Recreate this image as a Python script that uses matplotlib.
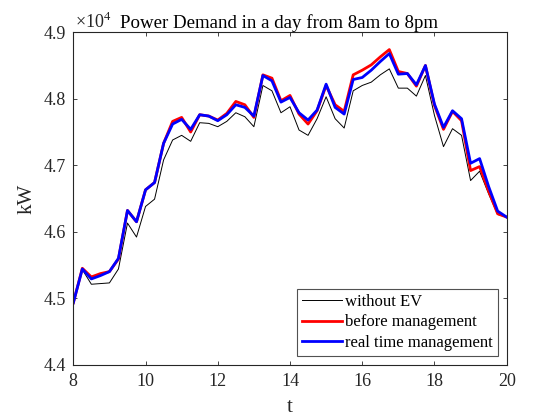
import numpy as np
import matplotlib
matplotlib.use('Agg')
import matplotlib.pyplot as plt

# --- dati (kW), un punto ogni 15 minuti dalle 8 alle 20 ---
t = np.arange(8, 20.01, 0.25)

without_ev = [44930, 45430, 45210, 45220, 45230, 45440, 46130, 45920, 46380, 46490,
              47080, 47380, 47450, 47360, 47640, 47630, 47580, 47660, 47790, 47730,
              47580, 48200, 48120, 47790, 47880, 47530, 47450, 47700, 48030, 47700,
              47560, 48120, 48200, 48250, 48360, 48450, 48160, 48160, 48040, 48350,
              47750, 47280, 47550, 47450, 46770, 46910, 46570, 46260, 46220]

before_mgmt = [44930, 45450, 45320, 45370, 45400, 45590, 46320, 46150, 46630, 46740,
               47330, 47660, 47720, 47500, 47760, 47740, 47680, 47780, 47960, 47910,
               47720, 48360, 48310, 47970, 48050, 47770, 47620, 47820, 48200, 47910,
               47810, 48360, 48430, 48510, 48630, 48740, 48410, 48380, 48190, 48500,
               47900, 47540, 47810, 47670, 46920, 46980, 46610, 46270, 46220]

real_time = [44930, 45440, 45290, 45340, 45400, 45600, 46320, 46150, 46630, 46740,
             47330, 47620, 47690, 47540, 47760, 47740, 47670, 47760, 47910, 47870,
             47740, 48350, 48270, 47950, 48020, 47790, 47680, 47830, 48220, 47870,
             47770, 48290, 48320, 48430, 48560, 48680, 48370, 48380, 48210, 48500,
             47920, 47570, 47820, 47700, 47030, 47100, 46680, 46310, 46220]

plt.rcParams['font.family'] = ['Liberation Serif', 'DejaVu Serif']
plt.rcParams['mathtext.fontset'] = 'custom'
plt.rcParams['mathtext.rm'] = 'Liberation Serif'

fig = plt.figure(figsize=(5.6, 4.2), dpi=100)
ax = fig.add_axes([0.1309, 0.1317, 0.7739, 0.7914])

ax.plot(t, np.array(without_ev) / 1e4, color='black', linewidth=0.7, label='without EV')
ax.plot(t, np.array(before_mgmt) / 1e4, color='red', linewidth=2.0, label='before management')
ax.plot(t, np.array(real_time) / 1e4, color='blue', linewidth=2.0, label='real time management')

ax.set_xlim(8, 20)
ax.set_ylim(4.4, 4.9)
ax.set_xticks(np.arange(8, 21, 2))
ax.set_yticks(np.arange(4.4, 4.91, 0.1))
ax.set_yticklabels(['4.4', '4.5', '4.6', '4.7', '4.8', '4.9'])
ax.tick_params(direction='in', top=True, right=True, length=3.2, width=0.6,
               labelsize=13, colors='#262626')
ax.tick_params(axis='x', pad=6)
ax.tick_params(axis='y', pad=5)
for sp in ax.spines.values():
    sp.set_linewidth(0.8)
    sp.set_color('#262626')

ax.set_xlabel('t', fontsize=15, color='#262626', labelpad=6)
ax.set_ylabel('kW', fontsize=15, color='#262626', labelpad=5)

# esponente in stile MATLAB e titolo
fig.text(75 / 560, 1 - 28 / 420, r'$\times10^{4}$', fontsize=13, color='#262626',
         ha='left', va='baseline')
fig.text(120 / 560, 1 - 28 / 420, 'Power Demand in a day from 8am to 8pm',
         fontsize=13.6, color='black', ha='left', va='baseline')

leg = ax.legend(loc='lower right', fontsize=12, frameon=True, fancybox=False,
                edgecolor='#262626', borderpad=0.3, labelspacing=0.28,
                handlelength=2.4, handletextpad=0.2, borderaxespad=0.52)
leg.get_frame().set_linewidth(0.8)

fig.savefig('out.png', dpi=100)
